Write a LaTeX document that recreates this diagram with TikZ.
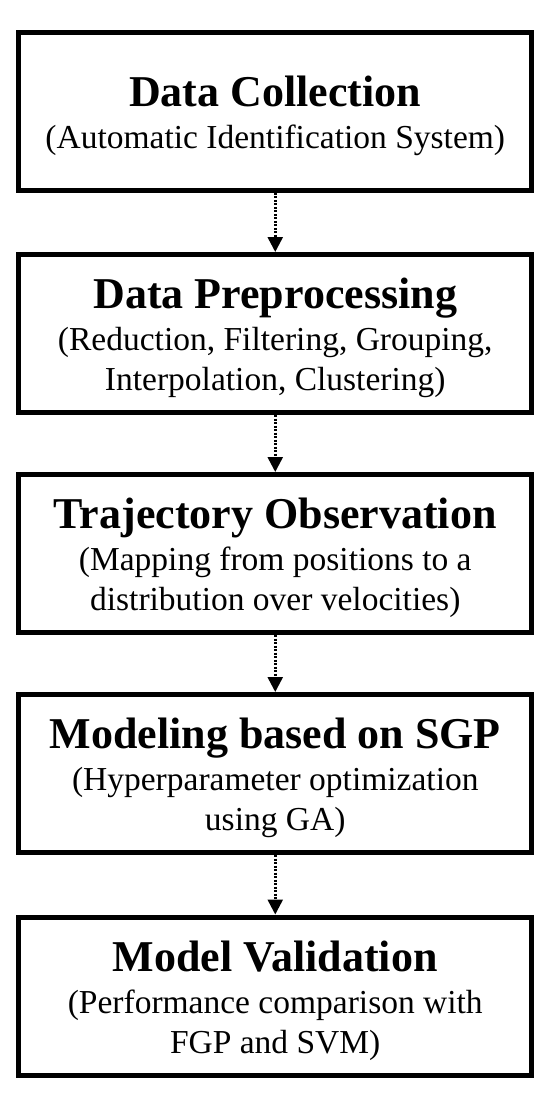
\documentclass[tikz,border=0pt]{standalone}
\usepackage{fontspec}
\setmainfont{Liberation Serif}
\usetikzlibrary{arrows.meta}
\newcommand{\ttlfont}{\fontsize{44bp}{48bp}\selectfont\bfseries}
\newcommand{\ttlstrut}{\rule{0pt}{40bp}}
\begin{document}
\begin{tikzpicture}[x=1bp,y=-1bp,
  stagebox/.style={draw=black, line width=5bp, rectangle, minimum width=512.5bp,
    minimum height=158bp, inner sep=0pt, align=center,
    font=\fontsize{33.5bp}{40bp}\selectfont},
  flowarrow/.style={line width=2.5bp, dash pattern=on 2bp off 1.5bp,
    -{Triangle[width=15bp,length=15bp]}}]
\useasboundingbox (0,0) rectangle (550,1097);
\fill[white] (0,0) rectangle (550,1097);
\node[stagebox] (b1) at (275.25,111.25) {\ttlstrut{\ttlfont Data Collection}\\[2bp](Automatic Identification System)};
\node[stagebox] (b2) at (275.25,333.5) {\ttlstrut{\ttlfont Data Preprocessing}\\[2bp](Reduction, Filtering, Grouping,\\Interpolation, Clustering)};
\node[stagebox] (b3) at (275.25,553.5) {\ttlstrut{\ttlfont Trajectory Observation}\\[2bp](Mapping from positions to a\\distribution over velocities)};
\node[stagebox] (b4) at (275.25,773.5) {\ttlstrut{\ttlfont Modeling based on SGP}\\[2bp](Hyperparameter optimization\\using GA)};
\node[stagebox] (b5) at (275.25,996) {\ttlstrut{\ttlfont Model Validation}\\[2bp](Performance comparison with\\FGP and SVM)};
\draw[flowarrow] (b1.south) -- (b2.north);
\draw[flowarrow] (b2.south) -- (b3.north);
\draw[flowarrow] (b3.south) -- (b4.north);
\draw[flowarrow] (b4.south) -- (b5.north);
\end{tikzpicture}
\end{document}
